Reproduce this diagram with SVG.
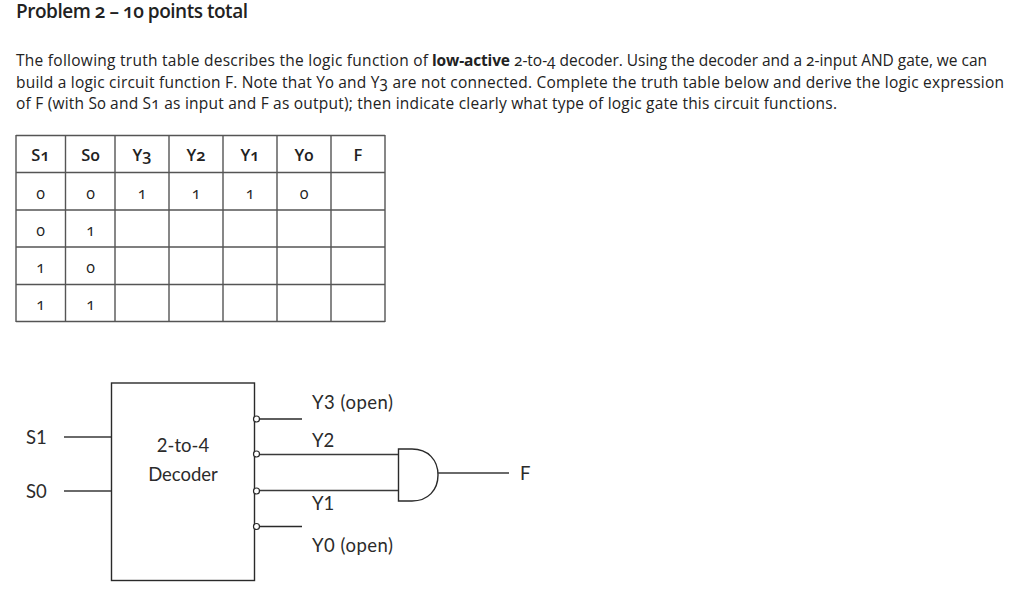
<svg xmlns="http://www.w3.org/2000/svg" width="1024" height="602" viewBox="0 0 1024 602">
<style>
text{font-family:"Open Sans","Noto Sans",sans-serif;fill:#222;font-variant-numeric:oldstyle-nums}
.h{font-size:19px;font-weight:600}
.p{font-size:15.5px}
.b{font-weight:700}
.th{font-size:16.500px;font-weight:600;text-anchor:middle}
.td{font-size:16px;font-weight:500;text-anchor:middle}
.g{stroke:#555;stroke-width:1.4;fill:none}
.k{stroke:#2a2a2a;stroke-width:1.4;fill:none}
.w{stroke:#3a3a3a;stroke-width:1.6;fill:none}
.d{font-family:Lato,"Liberation Sans",sans-serif;font-size:18.5px;font-variant-numeric:normal;fill:#2b2b2b}
.m{text-anchor:middle}
circle{fill:#fff;stroke:#2a2a2a;stroke-width:1.200}
</style>
<rect width="1024" height="602" fill="#fff"/>
<g id="text-block">
<text class="h" x="16" y="18" textLength="232">Problem 2 – 10 points total</text>
<text class="p" x="16" y="66" textLength="412">The following truth table describes the logic function of</text>
<text class="p b" x="432" y="66" textLength="78">low-active</text>
<text class="p" x="514" y="66" textLength="473">2-to-4 decoder. Using the decoder and a 2-input AND gate, we can</text>
<text class="p" x="16" y="88" textLength="988">build a logic circuit function F. Note that Y0 and Y3 are not connected. Complete the truth table below and derive the logic expression</text>
<text class="p" x="16" y="109" textLength="821">of F (with S0 and S1 as input and F as output); then indicate clearly what type of logic gate this circuit functions.</text>
</g>
<g id="truth-table">
<path class="g" d="M16 135.500H385M16 172.500H385M16 210H385M16 247H385M16 284.500H385M16 321.500H385M16 135V322M65.500 135V322M115 135V322M169 135V322M223 135V322M277 135V322M331 135V322M385 135V322"/>
<text class="th" x="40.500" y="160.500">S1</text><text class="th" x="90.500" y="160.500">S0</text><text class="th" x="142" y="160.500">Y3</text><text class="th" x="196" y="160.500">Y2</text><text class="th" x="250" y="160.500">Y1</text><text class="th" x="304" y="160.500">Y0</text><text class="th" x="358" y="160.500">F</text>
<text class="td" x="40.500" y="198.500">0</text><text class="td" x="90.500" y="198.500">0</text><text class="td" x="142" y="198.500">1</text><text class="td" x="196" y="198.500">1</text><text class="td" x="250" y="198.500">1</text><text class="td" x="304" y="198.500">0</text>
<text class="td" x="40.500" y="235.500">0</text><text class="td" x="90.500" y="235.500">1</text>
<text class="td" x="40.500" y="272.500">1</text><text class="td" x="90.500" y="272.500">0</text>
<text class="td" x="40.500" y="309.500">1</text><text class="td" x="90.500" y="309.500">1</text>
</g>
<g id="decoder">
<rect class="k" x="111.500" y="383" width="143" height="197.500"/>
<text class="d m" x="183" y="452">2-to-4</text>
<text class="d m" x="183" y="481">Decoder</text>
</g>
<g id="and-gate">
<path class="k" d="M398.500 449H412C428 449 438 460 438 475C438 490 428 501 412 501H398.500Z"/>
</g>
<g id="connectors">
<path class="w" d="M64 437H111M64 491H111"/>
<path class="k" d="M259 419H302M259 526.500H302"/>
<path class="w" d="M259 454.500H398M259 490.500H398M438 473H509"/>
<circle cx="256.500" cy="419" r="3"/><circle cx="256.500" cy="454" r="3"/><circle cx="256.500" cy="491" r="3"/><circle cx="256.500" cy="526.500" r="3"/>
</g>
<g id="labels">
<text class="d" x="26" y="444">S1</text>
<text class="d" x="26" y="498">S0</text>
<text class="d" x="312" y="409" textLength="81">Y3 (open)</text>
<text class="d" x="312" y="447">Y2</text>
<text class="d" x="312" y="510">Y1</text>
<text class="d" x="312" y="552" textLength="81">Y0 (open)</text>
<text class="d" x="520" y="480">F</text>
</g>
</svg>
